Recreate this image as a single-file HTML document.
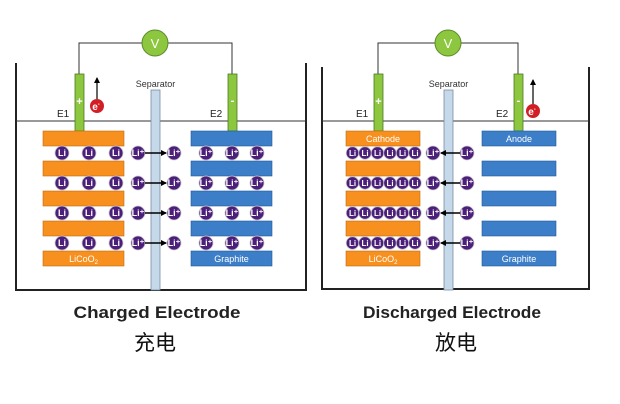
<!DOCTYPE html>
<html><head><meta charset="utf-8"><style>
html,body{margin:0;padding:0;background:#fff;width:620px;height:404px;overflow:hidden}
svg{display:block}
text{font-family:"Liberation Sans",sans-serif}
</style></head><body>
<svg id="s" width="620" height="404" viewBox="0 0 620 404" xmlns="http://www.w3.org/2000/svg">
<defs>
<marker id="ah" markerWidth="6" markerHeight="6" refX="5" refY="3" orient="auto" markerUnits="userSpaceOnUse"><path d="M0,0 L6,3 L0,6 z" fill="#000"/></marker>
</defs>
<g id="g"></g>
<text x="157" y="318" font-size="17" font-weight="bold" text-anchor="middle" fill="#222" textLength="167" lengthAdjust="spacingAndGlyphs">Charged Electrode</text>
<text x="155" y="350" font-size="21" text-anchor="middle" fill="#111" style='font-family:"Liberation Sans","Noto Sans CJK SC",sans-serif'>充电</text>
<text x="452" y="318" font-size="17" font-weight="bold" text-anchor="middle" fill="#222" textLength="178" lengthAdjust="spacingAndGlyphs">Discharged Electrode</text>
<text x="456" y="350" font-size="21" text-anchor="middle" fill="#111" style='font-family:"Liberation Sans","Noto Sans CJK SC",sans-serif'>放电</text>
</svg>
<script>
var g=document.getElementById('g'),h='';
function li(x,y,r,t){h+='<circle cx="'+x+'" cy="'+y+'" r="'+r+'" fill="#4b1f7a" stroke="#ccc" stroke-width="0.8"/><text x="'+x+'" y="'+(y+3)+'" font-size="'+(r<7?8:9)+'" font-weight="bold" text-anchor="middle" fill="#fff">'+t+'</text>';}
function panel(L,R,top,bot,vx,ex1,ex2,ox1,ox2,bx1,bx2,sx,charged){
 h+='<polyline points="'+L+','+top+' '+L+','+bot+' '+R+','+bot+' '+R+','+top+'" fill="none" stroke="#222" stroke-width="2"/>';
 h+='<line x1="'+L+'" y1="121" x2="'+R+'" y2="121" stroke="#333" stroke-width="1"/>';
 h+='<polyline points="'+(ex1+4)+',75 '+(ex1+4)+',43 '+(ex2+4)+',43 '+(ex2+4)+',75" fill="none" stroke="#333" stroke-width="1"/>';
 h+='<circle cx="'+vx+'" cy="43" r="13" fill="#8dc63f" stroke="#5a8a2a"/><text x="'+vx+'" y="48" font-size="13" text-anchor="middle" fill="#fff">V</text>';
 h+='<rect x="'+ex1+'" y="74" width="9" height="57" fill="#8dc63f" stroke="#4a7a20" stroke-width="0.8"/><text x="'+(ex1+4.5)+'" y="105" font-size="11" font-weight="bold" text-anchor="middle" fill="#fff">+</text>';
 h+='<rect x="'+ex2+'" y="74" width="9" height="57" fill="#8dc63f" stroke="#4a7a20" stroke-width="0.8"/><text x="'+(ex2+4.5)+'" y="104" font-size="11" font-weight="bold" text-anchor="middle" fill="#fff">-</text>';
 h+='<text x="'+(ex1-18)+'" y="117" font-size="10" fill="#222">E1</text><text x="'+(ex2-18)+'" y="117" font-size="10" fill="#222">E2</text>';
 h+='<rect x="'+sx+'" y="90" width="9" height="200" fill="#c5d9ea" stroke="#7a8da0" stroke-width="0.8"/>';
 h+='<text x="'+(sx+4.5)+'" y="87" font-size="9" text-anchor="middle" fill="#333">Separator</text>';
 var tops=[131,161,191,221,251];
 for(var i=0;i<5;i++){
  var y=tops[i];
  h+='<rect x="'+ox1+'" y="'+y+'" width="'+(ox2-ox1)+'" height="15" fill="#f7901e" stroke="#c06a10" stroke-width="0.6"/>';
  h+='<rect x="'+bx1+'" y="'+y+'" width="'+(bx2-bx1)+'" height="15" fill="#3d7ec8" stroke="#1f5a9a" stroke-width="0.6"/>';
 }
 h+='<text x="'+((ox1+ox2)/2)+'" y="262" font-size="9" text-anchor="middle" fill="#fff">LiCoO<tspan font-size="6" dy="2">2</tspan></text>';
 h+='<text x="'+((bx1+bx2)/2)+'" y="262" font-size="9" text-anchor="middle" fill="#fff">Graphite</text>';
 if(!charged){h+='<text x="'+((ox1+ox2)/2)+'" y="142" font-size="9" text-anchor="middle" fill="#fff">Cathode</text><text x="'+((bx1+bx2)/2)+'" y="142" font-size="9" text-anchor="middle" fill="#fff">Anode</text>';}
 for(var i=0;i<4;i++){
  var cy=153+30*i;
  if(charged){
   [62,89,116].forEach(function(x){li(x,cy,7,'Li')});
   li(138,cy,7,'Li⁺');li(174,cy,7,'Li⁺');
   h+='<line x1="145" y1="'+cy+'" x2="166" y2="'+cy+'" stroke="#000" stroke-width="1.5" marker-end="url(#ah)"/>';
   [206,232,257].forEach(function(x){li(x,cy,7,'Li⁺')});
  } else {
   for(var k=0;k<6;k++) li(352.5+k*12.5,cy,6.3,'Li');
   li(433,cy,7,'Li⁺');li(467,cy,7,'Li⁺');
   h+='<line x1="460" y1="'+cy+'" x2="441" y2="'+cy+'" stroke="#000" stroke-width="1.5" marker-end="url(#ah)"/>';
  }
 }
}
panel(16,306,63,290,155,75,228,43,124,191,272,151,true);
panel(322,589,67,289,448,374,514,346,420,482,556,444,false);
h+='<line x1="97" y1="99" x2="97" y2="78" stroke="#000" stroke-width="1.2" marker-end="url(#ah)"/><circle cx="97" cy="106" r="7" fill="#d21f26"/><text x="96" y="110" font-size="10" font-weight="bold" text-anchor="middle" fill="#fff">e<tspan font-size="6" dy="-4">-</tspan></text>';
h+='<line x1="533" y1="104" x2="533" y2="80" stroke="#000" stroke-width="1.2" marker-end="url(#ah)"/><circle cx="533" cy="111" r="7" fill="#d21f26"/><text x="532" y="115" font-size="10" font-weight="bold" text-anchor="middle" fill="#fff">e<tspan font-size="6" dy="-4">-</tspan></text>';
g.innerHTML=h;
</script>
</body></html>
